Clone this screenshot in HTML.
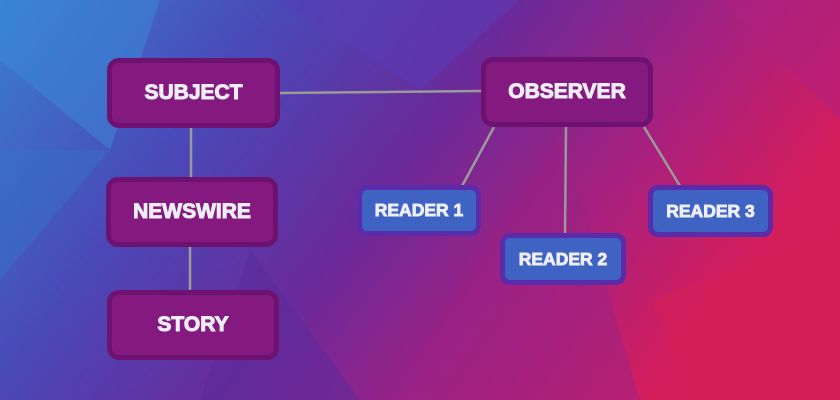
<!DOCTYPE html>
<html><head><meta charset="utf-8"><style>
body{margin:0;width:840px;height:400px;overflow:hidden;position:relative;font-family:"Liberation Sans",sans-serif;}
.bg{position:absolute;left:0;top:0}
.n{position:absolute;box-sizing:border-box;display:flex;align-items:center;justify-content:center;color:#eeeef6;font-weight:bold;letter-spacing:0px;-webkit-text-stroke:1px #eeeef6;}
.p{background:#841a80;border:5px solid #6e1272;border-radius:12px;font-size:21px;}
.r{background:#3f63c2;border:5px solid #5a2caa;border-radius:10px;font-size:17.5px;-webkit-text-stroke:0.9px #eeeef6;}
</style></head><body>
<svg class="bg" width="840" height="400" viewBox="0 0 840 400">
<defs><linearGradient id="g" x1="0" y1="0" x2="1" y2="0.35">
<stop offset="0" stop-color="#3a7fd0"/><stop offset="0.3" stop-color="#4a48b8"/><stop offset="0.55" stop-color="#6a2a9a"/><stop offset="0.8" stop-color="#a8207e"/><stop offset="1" stop-color="#d41e5c"/></linearGradient></defs>
<rect width="840" height="400" fill="url(#g)"/>
<polygon points="0,0 160,0 110,150 0,60" fill="#3a8ad8" opacity="0.5"/>
<polygon points="0,150 110,150 0,280" fill="#3570c8" opacity="0.5"/>
<polygon points="280,0 520,0 420,90" fill="#5a3cb8" opacity="0.5"/>
<polygon points="420,350 560,130 640,400 420,400" fill="#9a2284" opacity="0.5"/>
<polygon points="650,300 840,230 840,400 700,400" fill="#d41e58" opacity="0.6"/>
<polygon points="720,0 840,0 840,120" fill="#b02080" opacity="0.5"/>
<polygon points="250,250 360,400 200,400" fill="#5a2a9c" opacity="0.5"/>
<g stroke="#9a9a9a" stroke-width="2.5" fill="none">
<line x1="280" y1="93" x2="482" y2="91"/>
<line x1="191" y1="128" x2="191" y2="178"/>
<line x1="190" y1="247" x2="190" y2="291"/>
<line x1="494" y1="127" x2="462" y2="186"/>
<line x1="566" y1="127" x2="565" y2="234"/>
<line x1="644" y1="127" x2="680" y2="186"/>
</g></svg>
<div class="n p" style="left:107px;top:58px;width:173px;height:70px">SUBJECT</div>
<div class="n p" style="left:106px;top:177px;width:172px;height:70px">NEWSWIRE</div>
<div class="n p" style="left:107px;top:290px;width:172px;height:70px">STORY</div>
<div class="n p" style="left:481px;top:57px;width:172px;height:70px">OBSERVER</div>
<div class="n r" style="left:357px;top:185px;width:124px;height:51px">READER 1</div>
<div class="n r" style="left:500px;top:233px;width:126px;height:52px">READER 2</div>
<div class="n r" style="left:648px;top:185px;width:125px;height:52px">READER 3</div>
</body></html>
